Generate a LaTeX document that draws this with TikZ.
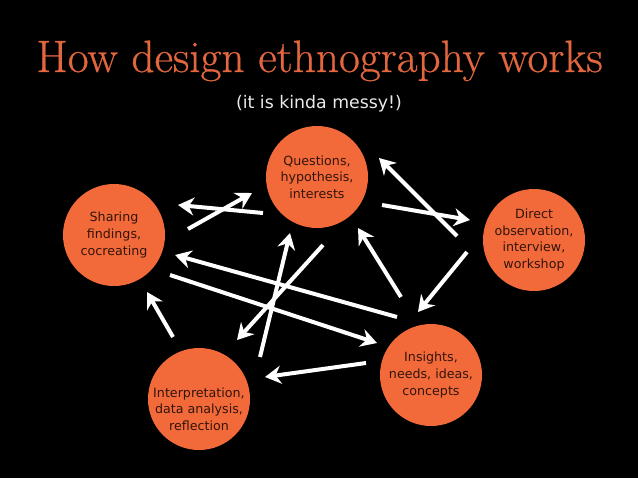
\documentclass[tikz,border=0pt]{standalone}
\usepackage{fontspec}
\usetikzlibrary{arrows.meta}
\newfontfamily\circfont{DejaVu Sans}
\newfontfamily\titlefont[FakeBold=0.6]{Latin Modern Roman}
\definecolor{circ}{RGB}{243,106,58}
\definecolor{ttl}{RGB}{226,102,62}
\definecolor{ctext}{RGB}{50,20,10}
\definecolor{sub}{RGB}{235,235,235}
\begin{document}
\begin{tikzpicture}[x=0.75pt,y=-0.75pt,
  bubble/.style={circle, fill=circ, draw=none, minimum size=76.5pt, inner sep=0pt,
    text=ctext, align=center, font=\circfont\fontsize{9.5pt}{12.4pt}\selectfont},
  txt/.style={text=ctext, align=center, font=\circfont\fontsize{9.5pt}{12.4pt}\selectfont},
  arr/.style={draw=white, line width=3pt,
    -{Stealth[length=12pt, width=13.5pt, inset=4pt]}}]
\fill[black] (0,0) rectangle (638,478);
\useasboundingbox (0,0) rectangle (638,478);
% title
\node[anchor=base, text=ttl, font=\titlefont\fontsize{34pt}{40pt}\selectfont, inner sep=0pt] (title) at (319.5,72) {How design ethnography works};
\node[anchor=base, text=sub, font=\circfont\fontsize{13pt}{15pt}\selectfont, inner sep=0pt] (subtitle) at (319,108) {(it is kinda messy!)};
% circles
\node[bubble] (q) at (317,177) {Questions,\\hypothesis,\\interests};
\node[bubble] (s) at (114,235) {Sharing\\findings,\\cocreating};
\node[bubble] (d) at (534,240) {Direct\\observation,\\interview,\\workshop};
\node[bubble] (ins) at (431,375) {Insights,\\needs, ideas,\\concepts};
\node[bubble, label={[txt, yshift=-7.5pt]center:{Interpretation,\\data analysis,\\reflection}}] (int) at (199,399) {};
% arrow end points
\coordinate (a1) at (263,213); \coordinate (a2) at (178,205);
\coordinate (b1) at (188,229); \coordinate (b2) at (252,193);
\coordinate (c1) at (457,236); \coordinate (c2) at (379,158);
\coordinate (d1) at (382,205); \coordinate (d2) at (470,220);
\coordinate (e1) at (467,252); \coordinate (e2) at (418,312);
\coordinate (f1) at (397,317); \coordinate (f2) at (175,255);
\coordinate (g1) at (170,275); \coordinate (g2) at (377,343);
\coordinate (h1) at (260,357); \coordinate (h2) at (290,233);
\coordinate (i1) at (323,245); \coordinate (i2) at (237,340);
\coordinate (j1) at (401,297); \coordinate (j2) at (358,228);
\coordinate (k1) at (173,337); \coordinate (k2) at (147,292);
\coordinate (l1) at (366,363); \coordinate (l2) at (265,377);
\draw[arr] (a1) -- (a2);
\draw[arr] (b1) -- (b2);
\draw[arr] (c1) -- (c2);
\draw[arr] (d1) -- (d2);
\draw[arr] (e1) -- (e2);
\draw[arr] (f1) -- (f2);
\draw[arr] (g1) -- (g2);
\draw[arr] (h1) -- (h2);
\draw[arr] (i1) -- (i2);
\draw[arr] (j1) -- (j2);
\draw[arr] (k1) -- (k2);
\draw[arr] (l1) -- (l2);
\end{tikzpicture}
\end{document}
